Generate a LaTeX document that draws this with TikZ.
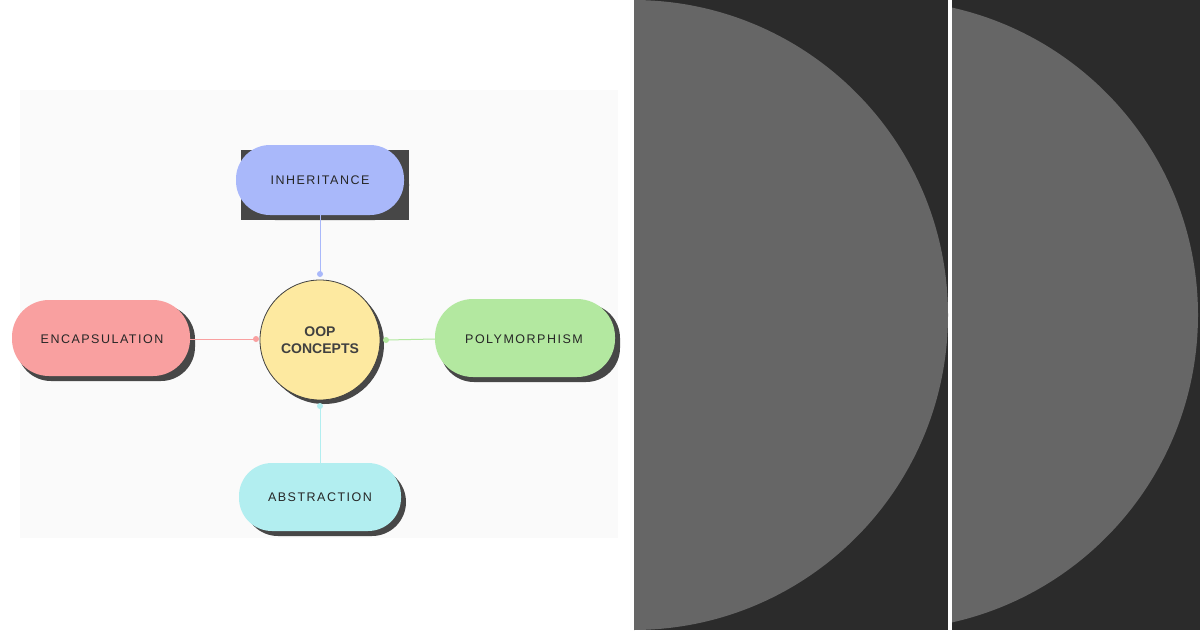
\documentclass[tikz,border=0pt]{standalone}
\usepackage{fontspec}
\setmainfont{Liberation Sans}
\newfontfamily\spaced[LetterSpace=12]{Liberation Sans}
\begin{document}
\begin{tikzpicture}[x=1pt,y=-1pt,
  pill/.style={rounded rectangle, draw=none, font=\spaced\fontsize{12}{14}\selectfont, text=black!85},
  shad/.style={fill=black!72},
  link/.style={line width=1pt}]
\useasboundingbox (0,0) rectangle (1200,630);
\fill[white] (0,0) rectangle (1200,630);
\fill[black!2!white] (20,90) rectangle (618,538);
% right panels
\fill[black!83] (634,0) rectangle (1200,630);
\fill[white] (948,0) rectangle (952,630);
\begin{scope}
\clip (634,0) rectangle (948,630);
\fill[black!60] (633,315) circle (315);
\end{scope}
\begin{scope}
\clip (952,0) rectangle (1200,630);
\fill[black!60] (883,315) circle (315);
\end{scope}
\definecolor{cA}{HTML}{A9B8FA}\definecolor{cE}{HTML}{F9A0A0}
\definecolor{cP}{HTML}{B3E8A0}\definecolor{cB}{HTML}{B2EEF0}
\definecolor{cC}{HTML}{FDE9A0}
% shadows
\fill[shad] (241,150) rectangle (409,220) [rounded corners=35pt] ;
\foreach \x/\y/\w/\h in {236/145/168/70, 12/300/178/76, 435/299/180/78, 239/463/162/68}{
  \fill[black!72,rounded corners=34pt] (\x+5,\y+5) rectangle ++(\w,\h);
}
\fill[black!72] (324,344) circle (60);
% connectors
\coordinate (ci) at (320,340);
\draw[link,cA] (320,215) -- (320,274); \fill[cA] (320,274) circle (3);
\draw[link,cE] (190,339) -- (256,339); \fill[cE] (256,339) circle (3);
\draw[link,cP] (435,339) -- (386,340); \fill[cP] (386,340) circle (3);
\draw[link,cB] (320,463) -- (320,406); \fill[cB] (320,406) circle (3);
% pills
\fill[cA,rounded corners=34pt] (236,145) rectangle ++(168,70);
\fill[cE,rounded corners=37pt] (12,300) rectangle ++(178,76);
\fill[cP,rounded corners=38pt] (435,299) rectangle ++(180,78);
\fill[cB,rounded corners=33pt] (239,463) rectangle ++(162,68);
\node[font=\spaced\fontsize{12.5}{14}\selectfont,text=black!85] (inh) at (320,180) {INHERITANCE};
\node[font=\spaced\fontsize{12.5}{14}\selectfont,text=black!85] (enc) at (102,339) {ENCAPSULATION};
\node[font=\spaced\fontsize{12.5}{14}\selectfont,text=black!85] (pol) at (524,339) {POLYMORPHISM};
\node[font=\spaced\fontsize{12.5}{14}\selectfont,text=black!85] (abs) at (320,497) {ABSTRACTION};
\node[circle,minimum size=120pt,fill=cC,draw=black!75,line width=0.8pt,align=center,
  font=\bfseries\fontsize{14}{17}\selectfont,text=black!75] (oop) at (320,340) {OOP\\CONCEPTS};
\end{tikzpicture}
\end{document}
